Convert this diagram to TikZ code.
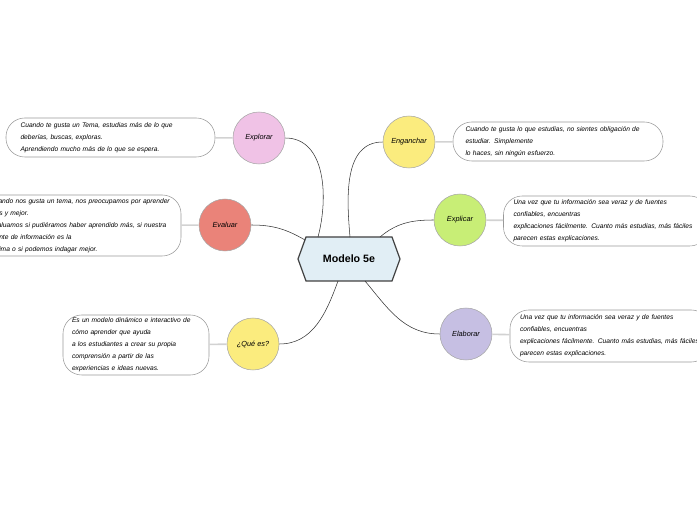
\documentclass[tikz,border=0pt]{standalone}
\usepackage{fontspec}
\setmainfont{Liberation Sans}
\usetikzlibrary{positioning}
\definecolor{hubfill}{HTML}{E1EEF5}
\definecolor{cexplorar}{HTML}{F0C2E6}
\definecolor{cenganchar}{HTML}{FBEC7E}
\definecolor{cevaluar}{HTML}{EA8379}
\definecolor{cexplicar}{HTML}{C8EE76}
\definecolor{celaborar}{HTML}{C6BFE3}
\definecolor{cquees}{HTML}{FBEC7E}
\tikzset{
  topic/.style={circle, draw=gray!70, minimum size=39pt, inner sep=0pt,
    font=\fontsize{5.5}{7}\selectfont\itshape},
  note/.style={draw=gray!80, rounded corners=14pt, align=left, inner sep=0pt,
    font=\fontsize{5}{9}\selectfont\itshape},
  branch/.style={draw=black!80, line width=0.4pt},
  stub/.style={draw=gray!35, line width=1.2pt},
}
\begin{document}
\begin{tikzpicture}[x=0.75pt, y=-0.75pt]
\useasboundingbox (0,0) rectangle (697,520);
% centre
\draw [fill=hubfill, draw=black!75, line width=0.9pt]
  (306,237) -- (392,237) -- (400,259) -- (392,281) -- (306,281) -- (298,259) -- cycle;
\node (hub) [font=\fontsize{8}{10}\selectfont\bfseries\scshape] at (349,259) {Modelo 5e};
% topics
\node (explorar) [topic, fill=cexplorar] at (259,138) {Explorar};
\node (enganchar) [topic, fill=cenganchar] at (409,142) {Enganchar};
\node (evaluar) [topic, fill=cevaluar] at (225,225) {Evaluar};
\node (explicar) [topic, fill=cexplicar] at (460,220) {Explicar};
\node (elaborar) [topic, fill=celaborar] at (466,334) {Elaborar};
\node (quees) [topic, fill=cquees] at (253,344) {¿Qué es?};
% notes
\node (nexplorar) [note, minimum width=209pt*0.75, minimum height=39pt*0.75,
  text width=180pt*0.75] at (110.5,137.5) {Cuando te gusta un Tema, estudias más de lo que\\
  deberías, buscas, exploras.\\ Aprendiendo mucho más de lo que se espera.};
\node (nenganchar) [note, minimum width=210pt*0.75, minimum height=39pt*0.75,
  text width=185pt*0.75] at (558,141.5) {Cuando te gusta lo que estudias, no sientes obligación de\\
  estudiar. Simplemente\\ lo haces, sin ningún esfuerzo.};
\node (nevaluar) [note, minimum width=200pt*0.75, minimum height=61pt*0.75,
  text width=182pt*0.75] at (81,225.5) {Cuando nos gusta un tema, nos preocupamos por aprender\\
  más y mejor.\\ Evaluamos si pudiéramos haber aprendido más, si nuestra\\
  fuente de información es la\\ óptima o si podemos indagar mejor.};
\node (nexplicar) [note, minimum width=205pt*0.75, minimum height=50pt*0.75,
  text width=185pt*0.75] at (606,221) {Una vez que tu información sea veraz y de fuentes\\
  confiables, encuentras\\ explicaciones fácilmente. Cuanto más estudias, más fáciles\\
  parecen estas explicaciones.};
\node (nelaborar) [note, minimum width=200pt*0.75, minimum height=52pt*0.75,
  text width=180pt*0.75] at (610,336) {Una vez que tu información sea veraz y de fuentes\\
  confiables, encuentras\\ explicaciones fácilmente. Cuanto más estudias, más fáciles\\
  parecen estas explicaciones.};
\node (nquees) [note, minimum width=146pt*0.75, minimum height=60pt*0.75,
  text width=128pt*0.75] at (136,345) {Es un modelo dinámico e interactivo de\\
  cómo aprender que ayuda\\ a los estudiantes a crear su propia\\
  comprensión a partir de las\\ experiencias e ideas nuevas.};
% stubs
\draw [stub] (explorar) -- (nexplorar);
\draw [stub] (enganchar) -- (nenganchar);
\draw [stub] (evaluar) -- (nevaluar);
\draw [stub] (explicar) -- (nexplicar);
\draw [stub] (elaborar) -- (nelaborar);
\draw [stub] (quees) -- (nquees);
% branches
\draw [branch] (318,237) to[out=75, in=0] (explorar.east);
\draw [branch] (350,237) to[out=95, in=180] (enganchar.west);
\draw [branch] (305,240) to[out=150, in=0] (evaluar.east);
\draw [branch] (380,237) to[out=40, in=180] (explicar.west);
\draw [branch] (365,281) to[out=-50, in=180] (elaborar.west);
\draw [branch] (338,281) to[out=-110, in=0] (quees.east);
\end{tikzpicture}
\end{document}
